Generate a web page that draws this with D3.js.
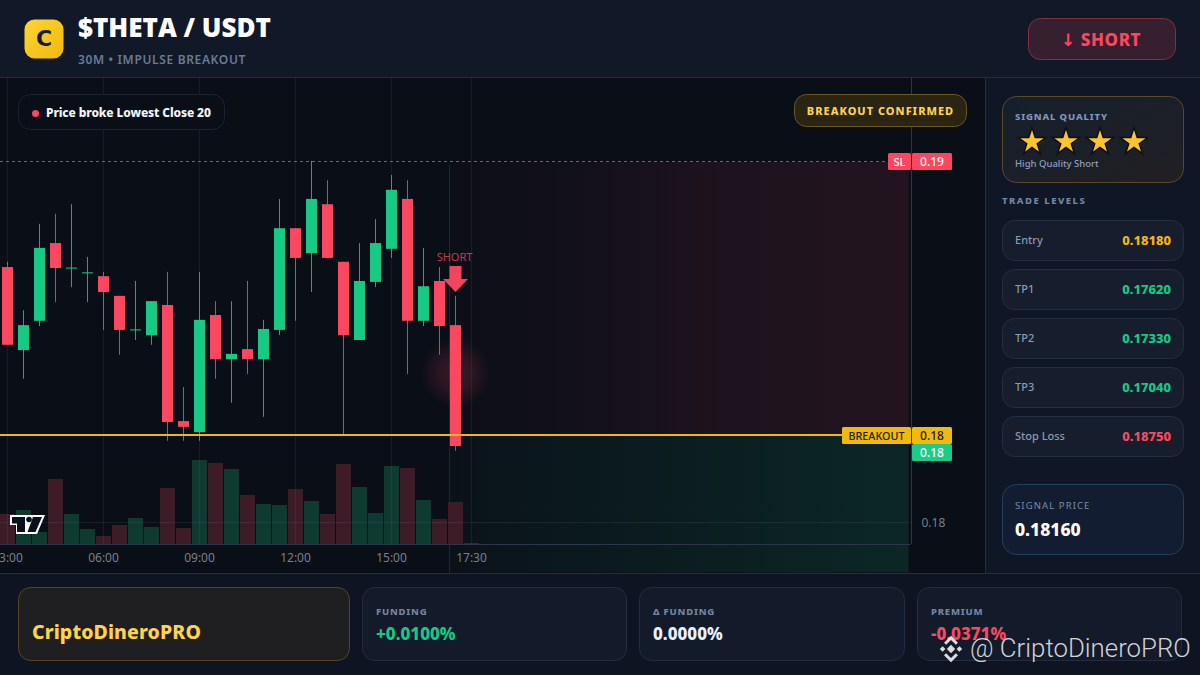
<!DOCTYPE html>
<html>
<head>
<meta charset="utf-8">
<script src="https://cdn.jsdelivr.net/npm/d3@7"></script>
<style>
html, body { margin: 0; padding: 0; background: #0a0e17; overflow: hidden; }
svg { display: block; }
text { font-family: "Noto Sans", "DejaVu Sans", sans-serif; }
</style>
</head>
<body>
<svg id="chart" width="1200" height="675"></svg>
<script>
// candles
const opens  = [0.18530,0.18357,0.18418,0.18580,0.18529,0.18519,0.18511,0.18470,0.18400,0.18388,0.18451,0.18209,0.18186,0.18430,0.18338,0.18359,0.18338,0.18399,0.18611,0.18559,0.18661,0.18541,0.18378,0.18499,0.18568,0.18672,0.18418,0.18501,0.18409];
const highs  = [0.18541,0.18440,0.18620,0.18641,0.18661,0.18551,0.18520,0.18470,0.18501,0.18459,0.18520,0.18280,0.18520,0.18459,0.18459,0.18501,0.18420,0.18672,0.18611,0.18751,0.18711,0.18541,0.18580,0.18630,0.18722,0.18711,0.18570,0.18530,0.18470];
const lows   = [0.18368,0.18297,0.18407,0.18457,0.18488,0.18457,0.18399,0.18347,0.18378,0.18368,0.18168,0.18168,0.18168,0.18297,0.18247,0.18307,0.18218,0.18388,0.18418,0.18478,0.18549,0.18180,0.18378,0.18488,0.18549,0.18307,0.18407,0.18347,0.18147];
const closes = [0.18368,0.18409,0.18570,0.18528,0.18529,0.18519,0.18478,0.18399,0.18400,0.18459,0.18207,0.18197,0.18420,0.18338,0.18349,0.18338,0.18401,0.18611,0.18549,0.18672,0.18549,0.18388,0.18501,0.18580,0.18691,0.18418,0.18490,0.18407,0.18157];
// last entry is the 17:30 bar that only has volume so far
const volumes = [300,340,120,650,300,150,80,190,260,170,560,160,840,810,750,490,400,390,550,430,300,800,570,310,780,760,440,250,420,10];
const volumeUp = [0,1,1,0,1,1,0,0,1,1,0,0,1,0,1,0,1,1,0,1,0,0,1,1,1,0,1,0,0,1];
const timeTicks = [0,6,12,18,24,29];
const timeLabels = ['03:00','06:00','09:00','12:00','15:00','17:30'];
const stopPrice = 0.1875;
const breakoutPrice = 0.1818;
const gridPrice = 0.18;
const levelNames = ['Entry','TP1','TP2','TP3','Stop Loss'];
const levelValues = ['0.18180','0.17620','0.17330','0.17040','0.18750'];
const levelKinds = ['entry','tp','tp','tp','sl'];
const statNames = ['FUNDING','Δ FUNDING','PREMIUM'];
const statValues = ['+0.0100%','0.0000%','-0.0371%'];
const stars = [1,2,3,4];

const GREEN = '#17c985', RED = '#fb4860', YELLOW = '#f0b90b', GOLD = '#ffd24f';
const svg = d3.select('#chart');
const defs = svg.append('defs');

const x = d3.scaleLinear().domain([0, 29]).range([7.5, 471.5]);
const y = d3.scaleLinear().domain([stopPrice, breakoutPrice]).range([161.5, 435]);
const yVol = d3.scaleLinear().domain([0, 840]).range([544, 460]);

function gradient(id, x2, y2, stops) {
	const g = defs.append('linearGradient').attr('id', id)
		.attr('x1', 0).attr('y1', 0).attr('x2', x2).attr('y2', y2);
	stops.forEach(s => g.append('stop').attr('offset', s[0]).attr('stop-color', s[1]).attr('stop-opacity', s[2]));
}
gradient('redZone', 1, 0, [[0, RED, 0.01], [0.15, RED, 0.02], [0.6, RED, 0.08], [1, RED, 0.1]]);
gradient('greenZone', 1, 0, [[0, GREEN, 0.02], [0.12, GREEN, 0.04], [1, GREEN, 0.13]]);
gradient('logoFill', 1, 1, [[0, '#fdd535', 1], [1, '#f0b90b', 1]]);
gradient('qualityFill', 1, 1, [[0, '#15202d', 1], [1, '#211f23', 1]]);
const glow = defs.append('radialGradient').attr('id', 'glow');
glow.append('stop').attr('offset', 0).attr('stop-color', RED).attr('stop-opacity', 0.2);
glow.append('stop').attr('offset', 0.45).attr('stop-color', RED).attr('stop-opacity', 0.14);
glow.append('stop').attr('offset', 1).attr('stop-color', RED).attr('stop-opacity', 0);

function box(parent, x0, y0, x1, y1, r, fill, stroke) {
	return parent.append('rect').attr('x', x0 + 0.5).attr('y', y0 + 0.5)
		.attr('width', x1 - x0 - 1).attr('height', y1 - y0 - 1).attr('rx', r)
		.attr('fill', fill).attr('stroke', stroke || 'none');
}
function label(parent, px, py, str, size, weight, fill, spacing, anchor) {
	return parent.append('text').attr('x', px).attr('y', py).text(str)
		.attr('font-size', size).attr('font-weight', weight).attr('fill', fill)
		.attr('letter-spacing', spacing || 0).attr('text-anchor', anchor || 'start');
}

// page areas
svg.append('rect').attr('width', 1200).attr('height', 675).attr('fill', '#0a0e17');
svg.append('rect').attr('width', 1200).attr('height', 77).attr('fill', '#111827');
svg.append('rect').attr('y', 77).attr('width', 1200).attr('height', 1).attr('fill', '#232d3f');
svg.append('rect').attr('x', 985).attr('y', 78).attr('width', 215).attr('height', 495).attr('fill', '#0f1626');
svg.append('rect').attr('x', 985).attr('y', 78).attr('width', 1).attr('height', 495).attr('fill', '#222c3d');
svg.append('rect').attr('y', 574).attr('width', 1200).attr('height', 101).attr('fill', '#0e1421');
svg.append('rect').attr('y', 573).attr('width', 1200).attr('height', 1).attr('fill', '#232d3f');

// trade zones
const zones = svg.append('g');
box(zones, 449, y(stopPrice), 909, y(breakoutPrice), 3, 'url(#redZone)');
box(zones, 449, y(breakoutPrice), 909, 573, 0, 'url(#greenZone)');
zones.append('line').attr('x1', 449.5).attr('x2', 449.5).attr('y1', 165).attr('y2', y(breakoutPrice))
	.attr('stroke', RED).attr('stroke-opacity', 0.22);
zones.append('line').attr('x1', 449.5).attr('x2', 449.5).attr('y1', y(breakoutPrice)).attr('y2', 573)
	.attr('stroke', GREEN).attr('stroke-opacity', 0.18);

// volume
svg.append('g').selectAll('rect').data(volumes).enter().append('rect')
	.attr('x', (d, i) => x(i) - 7.5)
	.attr('width', 15)
	.attr('y', d => yVol(d))
	.attr('height', d => yVol(0) - yVol(d))
	.attr('fill', (d, i) => volumeUp[i] ? '#0f3a30' : '#3e1c27');

// grid on top of the volume bars
const gridY = Math.ceil(y(gridPrice)) + 0.5;
const grid = svg.append('g').attr('stroke', '#9fb4d0').attr('stroke-opacity', 0.09);
grid.selectAll('line').data(timeTicks).enter().append('line')
	.attr('x1', d => x(d)).attr('x2', d => x(d)).attr('y1', 78).attr('y2', 544);
grid.append('line').attr('x1', 0).attr('x2', 911).attr('y1', gridY).attr('y2', gridY);

// axes
const xAxis = svg.append('g').attr('transform', 'translate(-0.5,544.5)')
	.call(d3.axisBottom(x).tickValues(timeTicks).tickFormat((d, i) => timeLabels[i]).tickSize(0).tickPadding(9));
xAxis.select('.domain').attr('stroke', '#2b3648').attr('d', 'M0,0H911');
xAxis.selectAll('text').attr('font-size', 12).attr('fill', '#787f8e').style('font-family', '"Noto Sans", sans-serif');

const yAxis = svg.append('g').attr('transform', 'translate(911.5,1)')
	.call(d3.axisRight(y).tickValues([gridPrice]).tickFormat(d3.format('.2f')).tickSize(0).tickPadding(10));
yAxis.select('.domain').attr('stroke', '#2b3648').attr('d', 'M0,77V543');
yAxis.selectAll('text').attr('font-size', 12).attr('fill', '#787f8e').style('font-family', '"Noto Sans", sans-serif');

// glow behind last candle
svg.append('circle').attr('cx', x(28)).attr('cy', 373).attr('r', 35).attr('fill', 'url(#glow)');

// candles
const candles = svg.append('g').selectAll('g').data(opens).enter().append('g');
const candleColor = (i) => (closes[i] >= opens[i] ? GREEN : RED);
candles.append('line')
	.attr('x1', (d, i) => x(i)).attr('x2', (d, i) => x(i))
	.attr('y1', (d, i) => y(highs[i])).attr('y2', (d, i) => y(lows[i]))
	.attr('stroke', (d, i) => candleColor(i)).attr('stroke-opacity', 0.85);
candles.append('rect')
	.attr('x', (d, i) => x(i) - 5.5)
	.attr('width', 11)
	.attr('y', (d, i) => y(Math.max(opens[i], closes[i])))
	.attr('height', (d, i) => Math.max(1, Math.abs(y(opens[i]) - y(closes[i]))))
	.attr('fill', (d, i) => candleColor(i));

// stop and breakout lines
svg.append('line').attr('x1', 0).attr('x2', 888).attr('y1', y(stopPrice)).attr('y2', y(stopPrice))
	.attr('stroke', RED).attr('stroke-opacity', 0.8).attr('stroke-dasharray', '3 3');
svg.append('line').attr('x1', 0).attr('x2', 842).attr('y1', y(breakoutPrice)).attr('y2', y(breakoutPrice))
	.attr('stroke', YELLOW).attr('stroke-width', 2);

// short marker
const mx = x(28);
label(svg, mx - 1, 261, 'SHORT', 11, 400, '#c9384e', 0, 'middle');
svg.append('path')
	.attr('d', `M${mx - 6},266H${mx + 6}V279H${mx + 12.5}L${mx},292L${mx - 12.5},279H${mx - 6}Z`)
	.attr('fill', '#f0455c');

// price tags
function tag(x0, x1, y0, y1, fill, str, color, size) {
	svg.append('rect').attr('x', x0).attr('y', y0).attr('width', x1 - x0).attr('height', y1 - y0).attr('rx', 1.5).attr('fill', fill);
	label(svg, (x0 + x1) / 2, (y0 + y1) / 2 + 4.5, str, size, 500, color, 0, 'middle');
}
tag(888, 911, 153, 170, RED, 'SL', '#fff', 11);
tag(912, 952, 153, 170, RED, d3.format('.2f')(stopPrice), '#fff', 12);
tag(842, 911, 427, 444, YELLOW, 'BREAKOUT', '#1a1a1a', 10.8);
tag(912, 952, 427, 444, YELLOW, d3.format('.2f')(breakoutPrice), '#1a1a1a', 12);
tag(912, 952, 444, 461, '#1ccb8a', d3.format('.2f')(closes[28]), '#fff', 12);

// tradingview mark
svg.append('path').attr('d', 'M10,515H45L37,534H16V525H10Z').attr('fill', '#fff');
svg.append('path').attr('d', 'M12,517H25V532H17V523.5H12Z').attr('fill', '#0b111c');
svg.append('path').attr('d', 'M33,517H42L35.5,532H27.5Z').attr('fill', '#0b111c');
svg.append('circle').attr('cx', 29).attr('cy', 519.5).attr('r', 2.8).attr('fill', '#0b111c');

// header
box(svg, 24, 19, 64, 59, 10, 'url(#logoFill)');
label(svg, 44, 46, 'C', 22, 800, '#141c2c', 0, 'middle').style('font-family', '"DejaVu Sans", sans-serif');
label(svg, 78, 37, '$THETA / USDT', 26, 800, '#fff').style('font-family', '"Open Sans", sans-serif');
label(svg, 78, 64, '30M • IMPULSE BREAKOUT', 12, 600, '#6b7a94', 0.65);
box(svg, 1028, 18, 1176, 60, 12, '#36202f', '#8c2a3e');
label(svg, 1101, 46, '↓ SHORT', 17, 800, RED, 0.6, 'middle');

// chart badges
box(svg, 18, 94, 225, 130, 12, '#0a0e17', '#1b2230');
svg.append('circle').attr('cx', 35.5).attr('cy', 113.5).attr('r', 3.5).attr('fill', RED);
label(svg, 46, 117, 'Price broke Lowest Close 20', 12, 800, '#f3f5f8', -0.12);
box(svg, 794, 94, 967, 127, 12, '#2a2413', '#6b5718');
label(svg, 880.5, 115, 'BREAKOUT CONFIRMED', 11, 800, GOLD, 1, 'middle');

// sidebar
box(svg, 1002, 96, 1184, 183, 14, 'url(#qualityFill)', '#5b4a1f');
label(svg, 1015, 120, 'SIGNAL QUALITY', 9.5, 800, '#8497b8', 0.85);
svg.append('g').selectAll('path').data(stars).enter().append('path')
	.attr('d', d3.symbol(d3.symbolStar, 235))
	.attr('transform', d => `translate(${998 + d * 34},${142})`)
	.attr('fill', '#fcc52f').attr('stroke', '#0d1018').attr('stroke-width', 1.5);
label(svg, 1015, 167, 'High Quality Short', 9.5, 500, '#8fa1c0');
label(svg, 1002, 204, 'TRADE LEVELS', 9.5, 800, '#76859f', 1.5);

const rows = svg.append('g').selectAll('g').data(levelNames).enter().append('g')
	.attr('transform', (d, i) => `translate(0,${220 + i * 49})`);
rows.append('rect').attr('x', 1002.5).attr('y', 0.5).attr('width', 181).attr('height', 40).attr('rx', 12)
	.attr('fill', '#161d2c').attr('stroke', '#232e41');
rows.append('text').attr('x', 1015).attr('y', 24).text(d => d)
	.attr('font-size', 11).attr('font-weight', 500).attr('fill', '#8c9ab3');
rows.append('text').attr('x', 1171).attr('y', 25).attr('text-anchor', 'end').text((d, i) => levelValues[i])
	.attr('font-size', 13).attr('font-weight', 800)
	.attr('fill', (d, i) => ({ entry: '#f5b40f', tp: GREEN, sl: RED })[levelKinds[i]]);

box(svg, 1002, 484, 1184, 555, 14, '#131d31', '#24405f');
label(svg, 1015, 509, 'SIGNAL PRICE', 9.5, 400, '#7c8aa3', 1.1);
label(svg, 1015, 536, '0.18160', 17.5, 800, '#fff');

// footer
box(svg, 18, 587, 350, 661, 12, '#1f1f21', '#564520');
label(svg, 32, 639, 'CriptoDineroPRO', 19.5, 800, GOLD, 0.1);
const statX = [362, 639, 917];
const statW = [265, 266, 265];
statNames.forEach((name, i) => {
	box(svg, statX[i], 587, statX[i] + statW[i], 661, 12, '#131a29', '#232c3e');
	label(svg, statX[i] + 14, 615, name, 9.5, 800, '#76859f', 0.8);
	label(svg, statX[i] + 14, 640, statValues[i], 17, 800, [GREEN, '#e8f1ff', RED][i]);
});

// watermark
const wm = svg.append('g').attr('fill', '#fff').attr('fill-opacity', 0.85)
	.attr('transform', 'translate(951,649) scale(0.7)');
wm.append('path').attr('d', 'M-12,-4L-8,0L-12,4L-16,0Z');
wm.append('path').attr('d', 'M12,-4L16,0L12,4L8,0Z');
wm.append('path').attr('d', 'M0,-6L6,0L0,6L-6,0Z');
wm.append('path').attr('d', 'M-7,6L0,13L7,6L10,9L0,19L-10,9Z');
wm.append('path').attr('d', 'M-7,-6L0,-13L7,-6L10,-9L0,-19L-10,-9Z');
label(svg, 970, 657, '@ CriptoDineroPRO', 25.8, 300, '#fff').attr('fill-opacity', 0.82).style('font-family', 'Roboto, sans-serif');
</script>
</body>
</html>
